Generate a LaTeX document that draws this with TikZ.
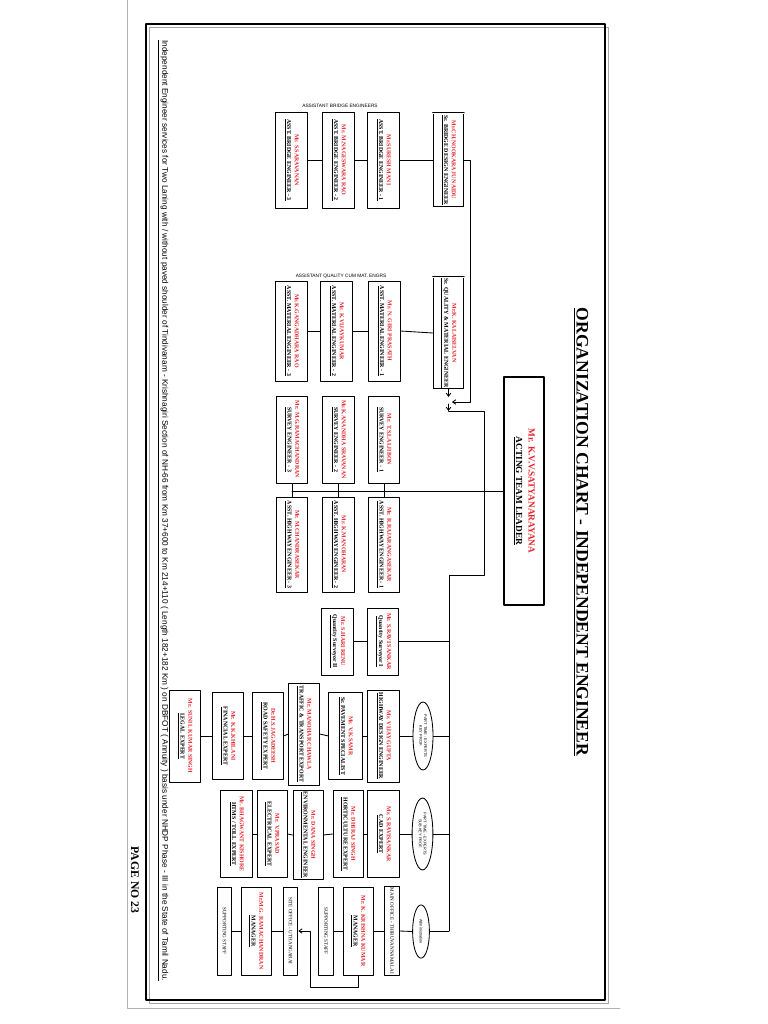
\documentclass[tikz,border=0pt]{standalone}
\usepackage{fontspec}
\setmainfont{Liberation Serif}
\setsansfont{Liberation Sans}
\usetikzlibrary{shapes.geometric,arrows.meta}

\definecolor{namered}{RGB}{228,32,40}
\newcommand{\who}[1]{\textcolor{namered}{#1}}
\newcommand{\role}[1]{\underline{#1}}

\begin{document}
\begin{tikzpicture}[x=0.025cm, y=-0.025cm, line cap=round, line join=round,
    >={Straight Barb[length=2.2pt,width=3.2pt]}]

% --- Global TikZ Styles for Consistency ---
\tikzset{
    staff/.style={
        draw=black,
        line width=0.6pt,
        rotate=-90,
        minimum height=0.78cm,
        inner sep=1pt,
        align=center,
        font=\fontsize{4.2}{5.6}\selectfont\bfseries
    },
    senior/.style={
        staff,
        line width=0.4pt,
        double=white,
        double distance=0.6pt
    },
    lead/.style={
        staff,
        line width=0.8pt,
        font=\fontsize{6.6}{9}\selectfont\bfseries
    },
    note/.style={
        staff,
        minimum height=0.37cm,
        font=\fontsize{3.6}{4.6}\selectfont
    },
    oval/.style={
        ellipse,
        draw=black,
        line width=0.6pt,
        rotate=-90,
        inner sep=0pt,
        align=center,
        font=\sffamily\fontsize{2.8}{3.4}\selectfont
    },
    tag/.style={
        inner sep=0pt,
        font=\sffamily\fontsize{3.4}{4}\selectfont
    },
    link/.style={
        draw=black,
        line width=0.6pt
    },
    flow/.style={
        link,
        ->
    }
}

\useasboundingbox (0,0) rectangle (768,1024);

% =========================================================================
% --- Page frame and headings ---
% =========================================================================
\draw[gray!60, line width=0.5pt] (127,-2) -- (127,1008) -- (620,1008);
\draw[gray!70, line width=0.5pt] (149,27) rectangle (608,1003);
\draw[line width=1.8pt] (146,24) rectangle (605,1000);

\node[rotate=-90, inner sep=0pt, font=\fontsize{12.5}{14}\selectfont\bfseries] (title) at (581,532)
    {\underline{ORGANIZATION CHART - INDEPENDENT ENGINEER}};
\node[rotate=-90, inner sep=0pt, font=\fontsize{8.3}{10}\selectfont\bfseries] (pageno) at (135,880) {PAGE NO 23};
\node[rotate=-90, anchor=west, inner sep=0pt, font=\sffamily\fontsize{5.85}{7}\selectfont] (project) at (163,40)
    {\underline{Independent Engineer services for Two Laning with / without paved shoulder of Tindivanam - Krishnagiri Section of NH-66 from Km 37+600 to Km 214+110 ( Length 182+182 Km ) on DBFOT ( Annuity ) basis under NHDP Phase - III in the State of Tamil Nadu.}};

% =========================================================================
% --- Bridge and quality wings ---
% =========================================================================
\node[tag] (abhead) at (340,106) {ASSISTANT BRIDGE ENGINEERS};
\node[staff, minimum width=2.4cm] (ab3) at (291.5,160) {\who{Mr. S.SARAVANAN}\\\role{ASST. BRIDGE ENGINEER - 3}};
\node[staff, minimum width=2.4cm] (ab2) at (338.5,160) {\who{Mr. M.NAGESWARA RAO}\\\role{ASST. BRIDGE ENGINEER - 2}};
\node[staff, minimum width=2.4cm] (ab1) at (383.5,160) {\who{Mr.SURESH MANI}\\\role{ASST. BRIDGE ENGINEER - 1}};
\node[senior, minimum width=2.35cm] (srb) at (448.5,160) {\who{Mr.CH.NOOKARAJU NAIDU}\\\role{Sr. BRIDGE DESIGN ENGINEER}};

\node[tag] (amhead) at (341,276) {ASSISTANT QUALITY CUM MAT. ENGRS};
\node[staff, minimum width=2.5cm] (am3) at (291.5,331) {\who{Mr.K.GANGADHARA RAO}\\\role{ASST. MATERIAL ENGINEER - 3}};
\node[staff, minimum width=2.5cm] (am2) at (336.5,331) {\who{Mr. K.VIJAYKUMAR}\\\role{ASST. MATERIAL ENGINEER - 2}};
\node[staff, minimum width=2.5cm] (am1) at (384.5,331) {\who{Mr. N. GIRI PRASATH}\\\role{ASST. MATERIAL ENGINEER - 1}};
\node[senior, minimum width=2.8cm] (srq) at (448.5,333) {\who{Mr.K. KALAISELVAN}\\\role{Sr. QUALITY \& MATERIAL ENGINEER}};

\draw[link] (ab3.north) -- (ab2.south);
\draw[link] (ab2.north) -- (ab1.south);
\draw[link] (ab1.north) -- (srb.south);
\draw[link] (am3.north) -- (am2.south);
\draw[link] (am2.north) -- (am1.south);
\draw[link] (am1.north) -- (srq.south);

% =========================================================================
% --- Team leader, survey and highway engineers ---
% =========================================================================
\node[lead, minimum width=5.7cm, minimum height=1cm] (tl) at (524,491) {\who{Mr. K.V.V.SATYANARAYANA}\\\role{ACTING TEAM LEADER}};

\node[staff, minimum width=2.175cm] (sv3) at (292,439.5) {\who{Mr. M.G.RAMACHANDRAN}\\\role{SURVEY ENGINEER - 3}};
\node[staff, minimum width=2.175cm] (sv2) at (338.5,439.5) {\who{Mr.K.ANANDHA SRAVANAN}\\\role{SURVEY ENGINEER - 2}};
\node[staff, minimum width=2.175cm] (sv1) at (384,439.5) {\who{Mr. T.S.LALJIBON}\\\role{SURVEY ENGINEER - 1}};
\node[staff, minimum width=2.375cm] (ah3) at (292,544.5) {\who{Mr. M.CHANDRASEKAR}\\\role{ASST. HIGHWAY ENGINEER - 3}};
\node[staff, minimum width=2.375cm] (ah2) at (338.5,544.5) {\who{Mr. K.MANOHARAN}\\\role{ASST. HIGHWAY ENGINEER - 2}};
\node[staff, minimum width=2.375cm] (ah1) at (384,544.5) {\who{Mr. R.RAJARANGASEKAR}\\\role{ASST. HIGHWAY ENGINEER - 1}};

\draw[link] (tl.south) -- (sv3.east |- tl.south);
\draw[link] (sv3.east) -- (ah3.west);
\draw[link] (sv2.east) -- (ah2.west);
\draw[link] (sv1.east) -- (ah1.west);

% --- Wings merge into the main trunk ---
\coordinate (qin) at (448.5,397);
\coordinate (bturn) at (470,402);
\coordinate (bin) at (452,402);
\coordinate (hub) at (448.5,404);
\coordinate (hubout) at (448.5,411);
\coordinate (bend) at (484,575);
\coordinate (trunk) at (449,575);
\coordinate (tend) at (449,931);

\draw[flow] (srq.east) -- (qin);
\draw[flow] (srb.north) -| (bturn) -- (bin);
\draw[flow] (hub) -- (hubout);
\draw[link] (hubout) -| (bend) -- (trunk) -- (tend);

% =========================================================================
% --- Quantity surveyors ---
% =========================================================================
\node[staff, minimum width=1.675cm, minimum height=0.8cm] (qs2) at (337,641.5) {\who{Mr. S.HARI RENU}\\\role{Quantity Surveyor II}};
\node[staff, minimum width=1.675cm, minimum height=0.76cm] (qs1) at (383,641.5) {\who{Mr. S.RAVI SANKAR}\\\role{Quantity Surveyor I}};

\draw[link] (qs2.north) -- (qs1.south);
\draw[link] (qs1.north) -- (qs1.north -| trunk);

% =========================================================================
% --- Part time experts: key professionals ---
% =========================================================================
\node[oval, minimum width=1.7cm, minimum height=0.5cm] (kp) at (423,736) {PART TIME - EXPERTS\\KEY PROF.};
\node[staff, minimum width=2.3cm] (hde) at (383.5,736) {\who{Mr. VIJAY GUPTA}\\\role{HIGHWAY DESIGN ENGINEER}};
\node[staff, minimum width=2.175cm, minimum height=0.83cm] (psp) at (345.5,736) {\who{Mr. V.K.SAMR}\\\role{Sr. PAVEMENT SPECIALIST}};
\node[staff, minimum width=2.55cm, minimum height=0.76cm] (tte) at (304,734) {\who{Mr. MANOHAR CHAWLA}\\\role{TRAFFIC \& TRANSPORT EXPORT}};
\node[staff, minimum width=2.175cm, minimum height=0.76cm] (rse) at (268,736) {\who{Dr.H.S.JAGADEESH}\\\role{ROAD SAFETY EXPERT}};
\node[staff, minimum width=2.175cm, minimum height=0.76cm] (fin) at (228,736) {\who{Mr. K.K.KHILANI}\\\role{FINANCIAL EXPERT}};
\node[staff, minimum width=2.3cm] (leg) at (185,736) {\who{Mr. SUNIL KUMAR SINGH}\\\role{LEGAL EXPERT}};

\draw[link] (kp.north) -- (kp.north -| trunk);
\draw[link] (kp.south) -- (hde.north);
\draw[link] (hde.south) -- (psp.north);
\draw[link] (psp.south) -- (tte.north);
\draw[link] (tte.south) -- (rse.north);
\draw[link] (rse.south) -- (fin.north);
\draw[link] (fin.south) -- (leg.north);

% =========================================================================
% --- Part time experts: sub key professionals ---
% =========================================================================
\node[oval, minimum width=1.8cm, minimum height=0.52cm] (skp) at (422.5,834) {PART TIME - EXPERTS\\SUB KEY PROF.};
\node[staff, minimum width=2.175cm] (cad) at (383.5,834) {\who{Mr. S.RAVISANKAR}\\\role{CAD EXPERT}};
\node[staff, minimum width=2.175cm, minimum height=0.75cm] (hor) at (348,834) {\who{Mr. DHIRAJ SINGH}\\\role{HORTICULTURE EXPERT}};
\node[staff, minimum width=2.2cm, minimum height=0.75cm] (env) at (308,835) {\who{Mr. DANA SINGH}\\\role{ENVIRONMENTAL ENGINEER}};
\node[staff, minimum width=2.175cm, minimum height=0.75cm] (ele) at (272,834) {\who{Mr. V.PRASAD}\\\role{ELECTRICAL EXPERT}};
\node[staff, minimum width=2.175cm] (htm) at (236.5,834) {\who{Mr. BHAGWANT KISHORE}\\\role{HTMS / TOLL EXPERT}};

\draw[link] (skp.north) -- (skp.north -| trunk);
\draw[link] (skp.south) -- (cad.north);
\draw[link] (cad.south) -- (hor.north);
\draw[link] (hor.south) -- (env.north);
\draw[link] (env.south) -- (ele.north);
\draw[link] (ele.south) -- (htm.north);

% =========================================================================
% --- Administration ---
% =========================================================================
\node[oval, minimum width=1.33cm, minimum height=0.42cm] (adm) at (421,931.5) {Administration};
\node[note, minimum width=2.2cm, minimum height=0.36cm] (mof) at (392,931) {MAIN OFFICE - THIRUVANNAMALAI};
\node[staff, minimum width=2.2cm, minimum height=0.75cm] (mgr1) at (358,931) {\who{Mr. K. KRISHNA KUMAR}\\\role{MANAGER}};
\node[note, minimum width=2.2cm] (ss1) at (326,931) {SUPPORTING STAFF};
\node[note, minimum width=2.2cm] (sof) at (290.5,931) {SITE OFFICE - UTHANGARAI};
\node[staff, minimum width=2.2cm, minimum height=0.75cm] (mgr2) at (256,931) {\who{Mr.M.G. RAMACHANDRAN}\\\role{MANAGER}};
\node[note, minimum width=2.2cm] (ss2) at (224.5,931) {SUPPORTING STAFF};

\coordinate (loop) at (310,987);

\draw[link] (adm.north) -- (adm.north -| tend);
\draw[link] (adm.south) -- (mof.north);
\draw[link] (mof.south) -- (mgr1.north);
\draw[link] (mgr1.south) -- (ss1.north);
\draw[flow] (mgr1.east) |- (loop) |- (sof.north); % site office reports to main office manager
\draw[link] (sof.south) -- (mgr2.north);
\draw[link] (mgr2.south) -- (ss2.north);

\end{tikzpicture}
\end{document}
